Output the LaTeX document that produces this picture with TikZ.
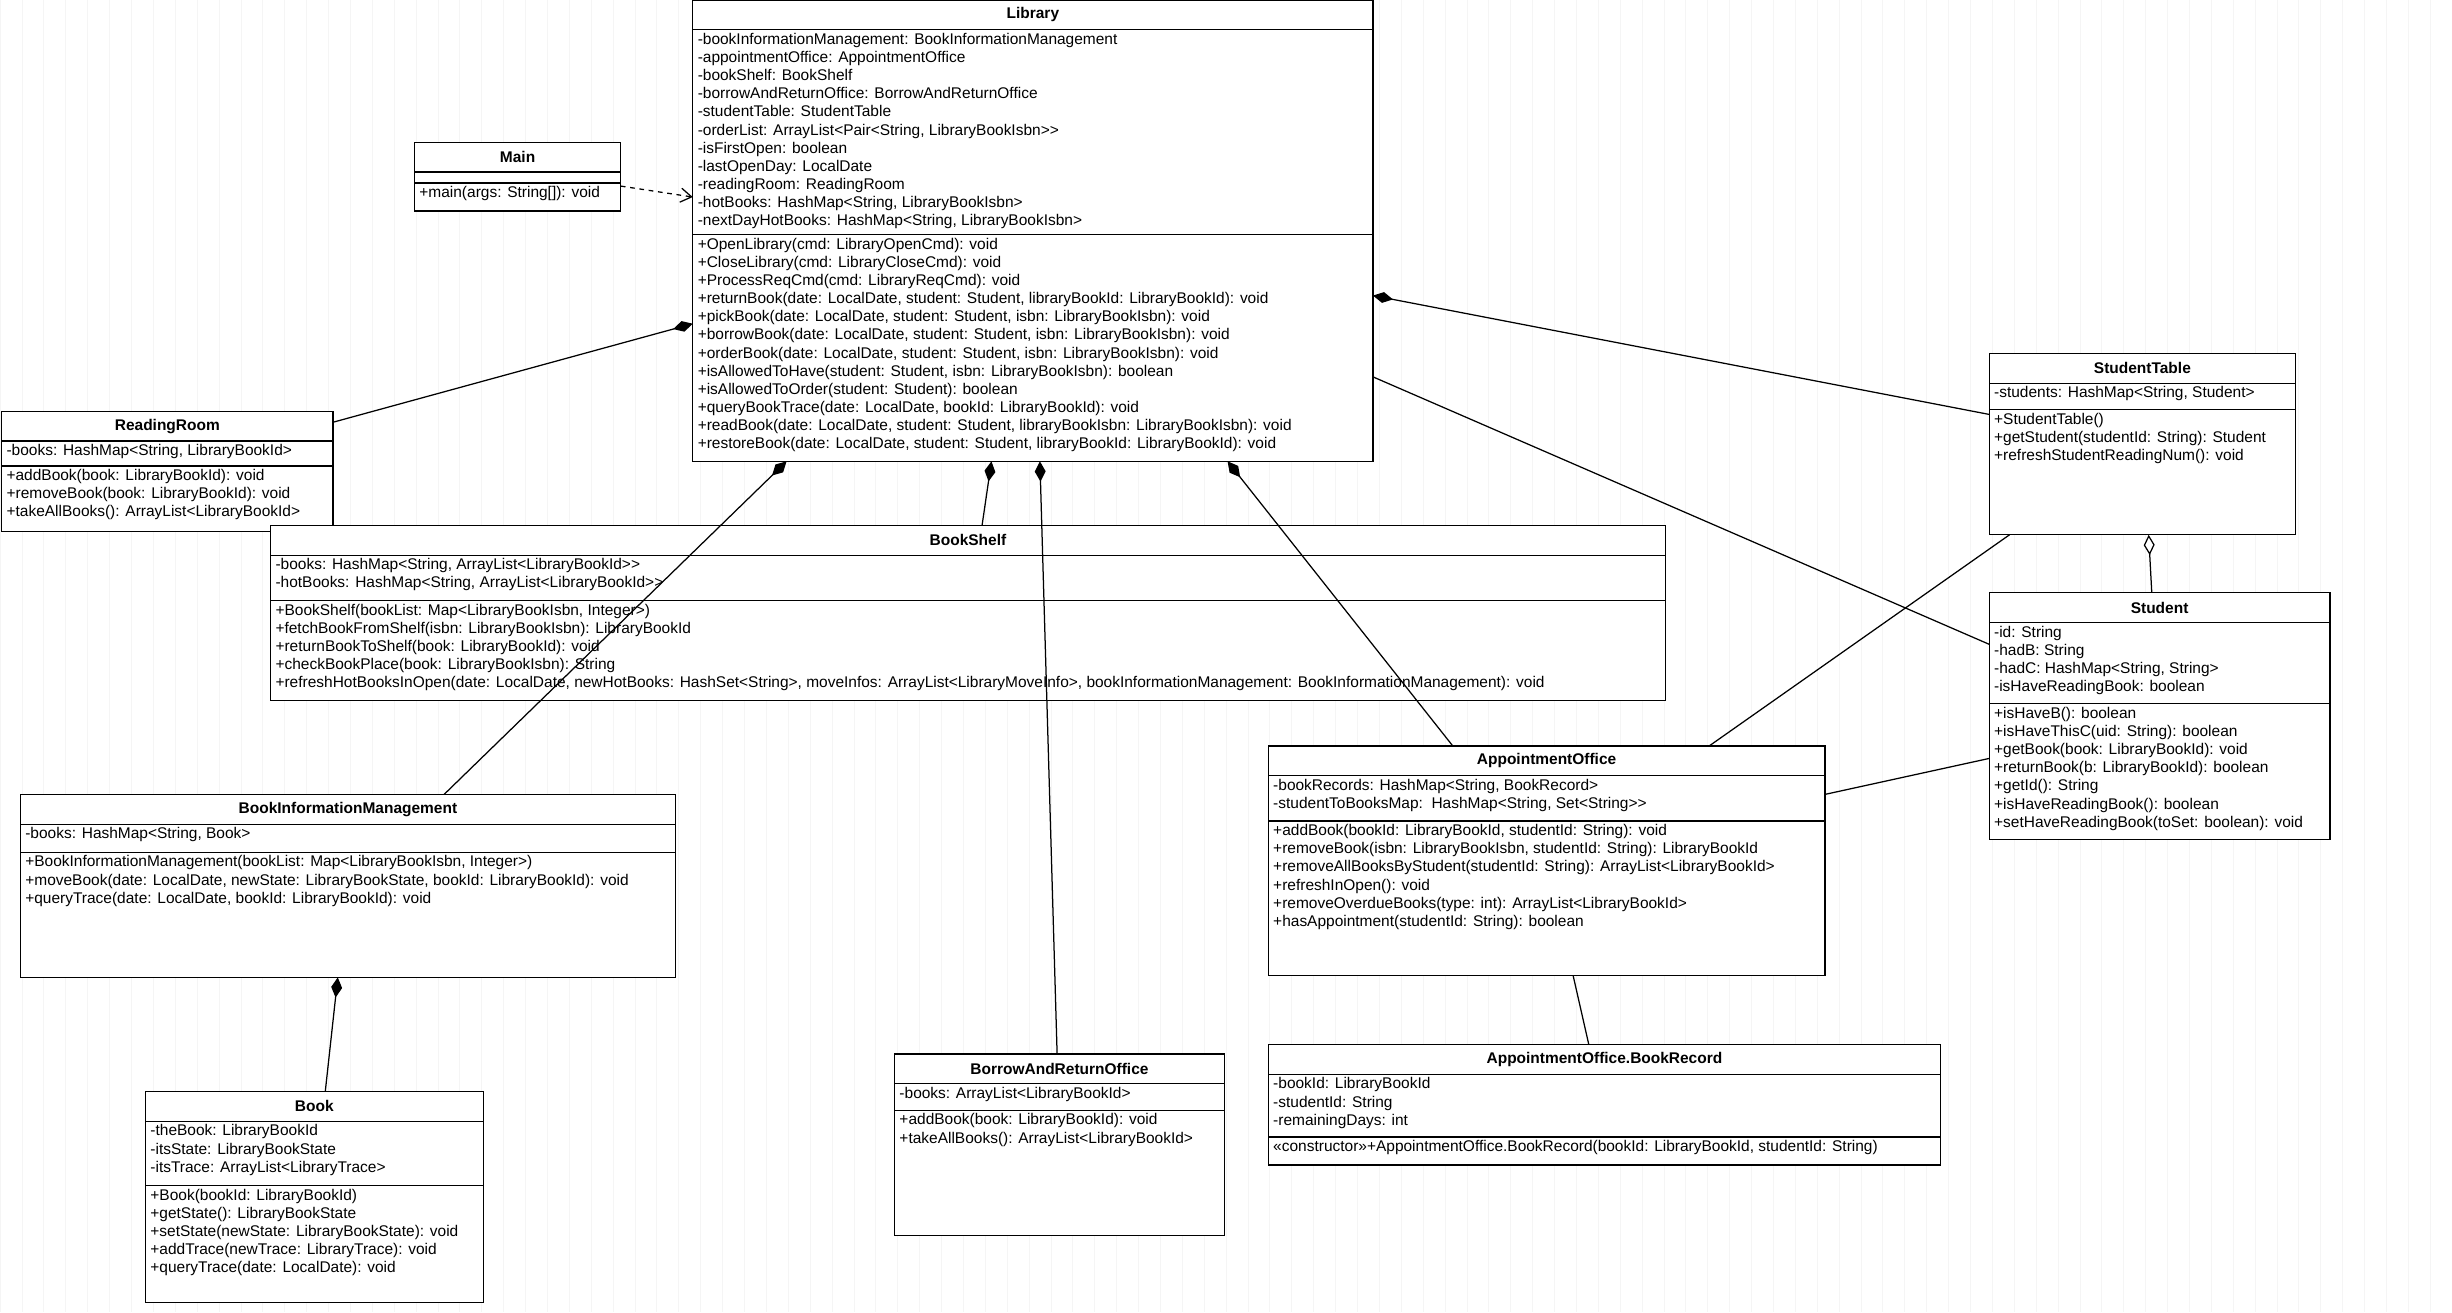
\documentclass[tikz,border=0pt]{standalone}
\usepackage{fontspec}
\setmainfont{Liberation Sans}[Ligatures=TeXOff]
\usetikzlibrary{arrows.meta,calc}
\begin{document}
\begin{tikzpicture}[x=1pt,y=-1pt,
 box/.style={draw,thick,fill=white,anchor=north west,inner sep=0,outer sep=0},
 ttl/.style={font=\fontsize{9.9}{11.6}\selectfont\bfseries,anchor=center},
 txt/.style={font=\fontsize{9.9}{11.6}\selectfont,align=left,anchor=north west,inner sep=0},
 line/.style={draw,thick},
 comp/.style={line,{Diamond[length=13pt,width=7pt]}-},
 aggr/.style={line,{Diamond[open,length=13pt,width=7pt,fill=white]}-}]
\useasboundingbox (0,0) rectangle (1568,839);
\fill[white] (0,0) rectangle (1568,839);
\draw[black!4,step=14] (0,0) grid (1568,839);
\newcommand\ubox[8]{%
 \node[box,minimum width=#4pt,minimum height=#5pt] (#1) at (#2,#3) {};
 \node[ttl] at ($(#2,#3)+(#4/2,9.5)$) {#6};
 \draw[thick] (#2,#3+19) -- ++(#4,0);
 \draw[thick] (#2,#3+#7) -- ++(#4,0);
 \node[txt] at (#2+3,#3+21) {#8};}
\newcommand\meth[3]{\node[txt] at (#1+3,#2+2) {#3};}
% Library
\ubox{lib}{443}{0}{435}{295}{Library}{150}{-bookInformationManagement: BookInformationManagement\\-appointmentOffice: AppointmentOffice\\-bookShelf: BookShelf\\-borrowAndReturnOffice: BorrowAndReturnOffice\\-studentTable: StudentTable\\-orderList: ArrayList<Pair<String, LibraryBookIsbn>{}>\\-isFirstOpen: boolean\\-lastOpenDay: LocalDate\\-readingRoom: ReadingRoom\\-hotBooks: HashMap<String, LibraryBookIsbn>\\-nextDayHotBooks: HashMap<String, LibraryBookIsbn>}
\meth{443}{150}{+OpenLibrary(cmd: LibraryOpenCmd): void\\+CloseLibrary(cmd: LibraryCloseCmd): void\\+ProcessReqCmd(cmd: LibraryReqCmd): void\\+returnBook(date: LocalDate, student: Student, libraryBookId: LibraryBookId): void\\+pickBook(date: LocalDate, student: Student, isbn: LibraryBookIsbn): void\\+borrowBook(date: LocalDate, student: Student, isbn: LibraryBookIsbn): void\\+orderBook(date: LocalDate, student: Student, isbn: LibraryBookIsbn): void\\+isAllowedToHave(student: Student, isbn: LibraryBookIsbn): boolean\\+isAllowedToOrder(student: Student): boolean\\+queryBookTrace(date: LocalDate, bookId: LibraryBookId): void\\+readBook(date: LocalDate, student: Student, libraryBookIsbn: LibraryBookIsbn): void\\+restoreBook(date: LocalDate, student: Student, libraryBookId: LibraryBookId): void}
% Main
\ubox{main}{265}{91}{132}{44}{Main}{26}{}
\meth{265}{117}{+main(args: String[]): void}
% ReadingRoom
\ubox{rr}{1}{263}{212}{77}{ReadingRoom}{35}{-books: HashMap<String, LibraryBookId>}
\meth{1}{298}{+addBook(book: LibraryBookId): void\\+removeBook(book: LibraryBookId): void\\+takeAllBooks(): ArrayList<LibraryBookId>}
% BookShelf
\ubox{bs}{173}{336}{892}{112}{BookShelf}{48}{-books: HashMap<String, ArrayList<LibraryBookId>{}>\\-hotBooks: HashMap<String, ArrayList<LibraryBookId>{}>}
\meth{173}{384}{+BookShelf(bookList: Map<LibraryBookIsbn, Integer>)\\+fetchBookFromShelf(isbn: LibraryBookIsbn): LibraryBookId\\+returnBookToShelf(book: LibraryBookId): void\\+checkBookPlace(book: LibraryBookIsbn): String\\+refreshHotBooksInOpen(date: LocalDate, newHotBooks: HashSet<String>, moveInfos: ArrayList<LibraryMoveInfo>, bookInformationManagement: BookInformationManagement): void}
% BIM
\ubox{bim}{13}{508}{419}{117}{BookInformationManagement}{37}{-books: HashMap<String, Book>}
\meth{13}{545}{+BookInformationManagement(bookList: Map<LibraryBookIsbn, Integer>)\\+moveBook(date: LocalDate, newState: LibraryBookState, bookId: LibraryBookId): void\\+queryTrace(date: LocalDate, bookId: LibraryBookId): void}
% Book
\ubox{book}{93}{698}{216}{135}{Book}{60}{-theBook: LibraryBookId\\-itsState: LibraryBookState\\-itsTrace: ArrayList<LibraryTrace>}
\meth{93}{758}{+Book(bookId: LibraryBookId)\\+getState(): LibraryBookState\\+setState(newState: LibraryBookState): void\\+addTrace(newTrace: LibraryTrace): void\\+queryTrace(date: LocalDate): void}
% BorrowAndReturnOffice
\ubox{bro}{572}{674}{211}{116}{BorrowAndReturnOffice}{36}{-books: ArrayList<LibraryBookId>}
\meth{572}{710}{+addBook(book: LibraryBookId): void\\+takeAllBooks(): ArrayList<LibraryBookId>}
% AppointmentOffice
\ubox{ao}{811}{477}{356}{147}{AppointmentOffice}{48}{-bookRecords: HashMap<String, BookRecord>\\-studentToBooksMap:\ \ HashMap<String, Set<String>{}>}
\meth{811}{525}{+addBook(bookId: LibraryBookId, studentId: String): void\\+removeBook(isbn: LibraryBookIsbn, studentId: String): LibraryBookId\\+removeAllBooksByStudent(studentId: String): ArrayList<LibraryBookId>\\+refreshInOpen(): void\\+removeOverdueBooks(type: int): ArrayList<LibraryBookId>\\+hasAppointment(studentId: String): boolean}
% BookRecord
\ubox{br}{811}{668}{430}{77}{AppointmentOffice.BookRecord}{59}{-bookId: LibraryBookId\\-studentId: String\\-remainingDays: int}
\meth{811}{727}{«constructor»+AppointmentOffice.BookRecord(bookId: LibraryBookId, studentId: String)}
% StudentTable
\ubox{st}{1272}{226}{196}{116}{StudentTable}{36}{-students: HashMap<String, Student>}
\meth{1272}{262}{+StudentTable()\\+getStudent(studentId: String): Student\\+refreshStudentReadingNum(): void}
% Student
\ubox{stu}{1272}{379}{218}{158}{Student}{71}{-id: String\\-hadB: String\\-hadC: HashMap<String, String>\\-isHaveReadingBook: boolean}
\meth{1272}{450}{+isHaveB(): boolean\\+isHaveThisC(uid: String): boolean\\+getBook(book: LibraryBookId): void\\+returnBook(b: LibraryBookId): boolean\\+getId(): String\\+isHaveReadingBook(): boolean\\+setHaveReadingBook(toSet: boolean): void}
% anchor coordinates
\coordinate (mainR) at (397,119); \coordinate (libMain) at (443,126);
\coordinate (libRR) at (443,207); \coordinate (rrR) at (213,270);
\coordinate (libBS) at (634,295); \coordinate (bsT) at (628,336);
\coordinate (libBIM) at (503,295); \coordinate (bimT) at (284,508);
\coordinate (libBRO) at (665,295); \coordinate (broT) at (676,674);
\coordinate (libAO) at (785,295); \coordinate (aoT) at (929,477);
\coordinate (libST) at (878,189); \coordinate (stL) at (1272,265);
\coordinate (libStu) at (878,241); \coordinate (stuL) at (1272,412);
\coordinate (stB) at (1374,342); \coordinate (stuT) at (1376,379);
\coordinate (aoT2) at (1093,477); \coordinate (stBL) at (1285,342);
\coordinate (aoR) at (1167,508); \coordinate (stuL2) at (1272,485);
\coordinate (brT) at (1016,668); \coordinate (aoB) at (1006,624);
\coordinate (bimB) at (216,625); \coordinate (bookT) at (208,698);
\draw[thick,dashed,-{Straight Barb[length=7pt,width=9pt]}] (mainR) -- (libMain);
\draw[comp] (libRR) -- (rrR);
\draw[comp] (libBS) -- (bsT);
\draw[comp] (libBIM) -- (bimT);
\draw[comp] (libBRO) -- (broT);
\draw[comp] (libAO) -- (aoT);
\draw[comp] (libST) -- (stL);
\draw[line] (libStu) -- (stuL);
\draw[aggr] (stB) -- (stuT);
\draw[line] (aoT2) -- (stBL);
\draw[line] (aoR) -- (stuL2);
\draw[line] (brT) -- (aoB);
\draw[comp] (bimB) -- (bookT);
\end{tikzpicture}
\end{document}
